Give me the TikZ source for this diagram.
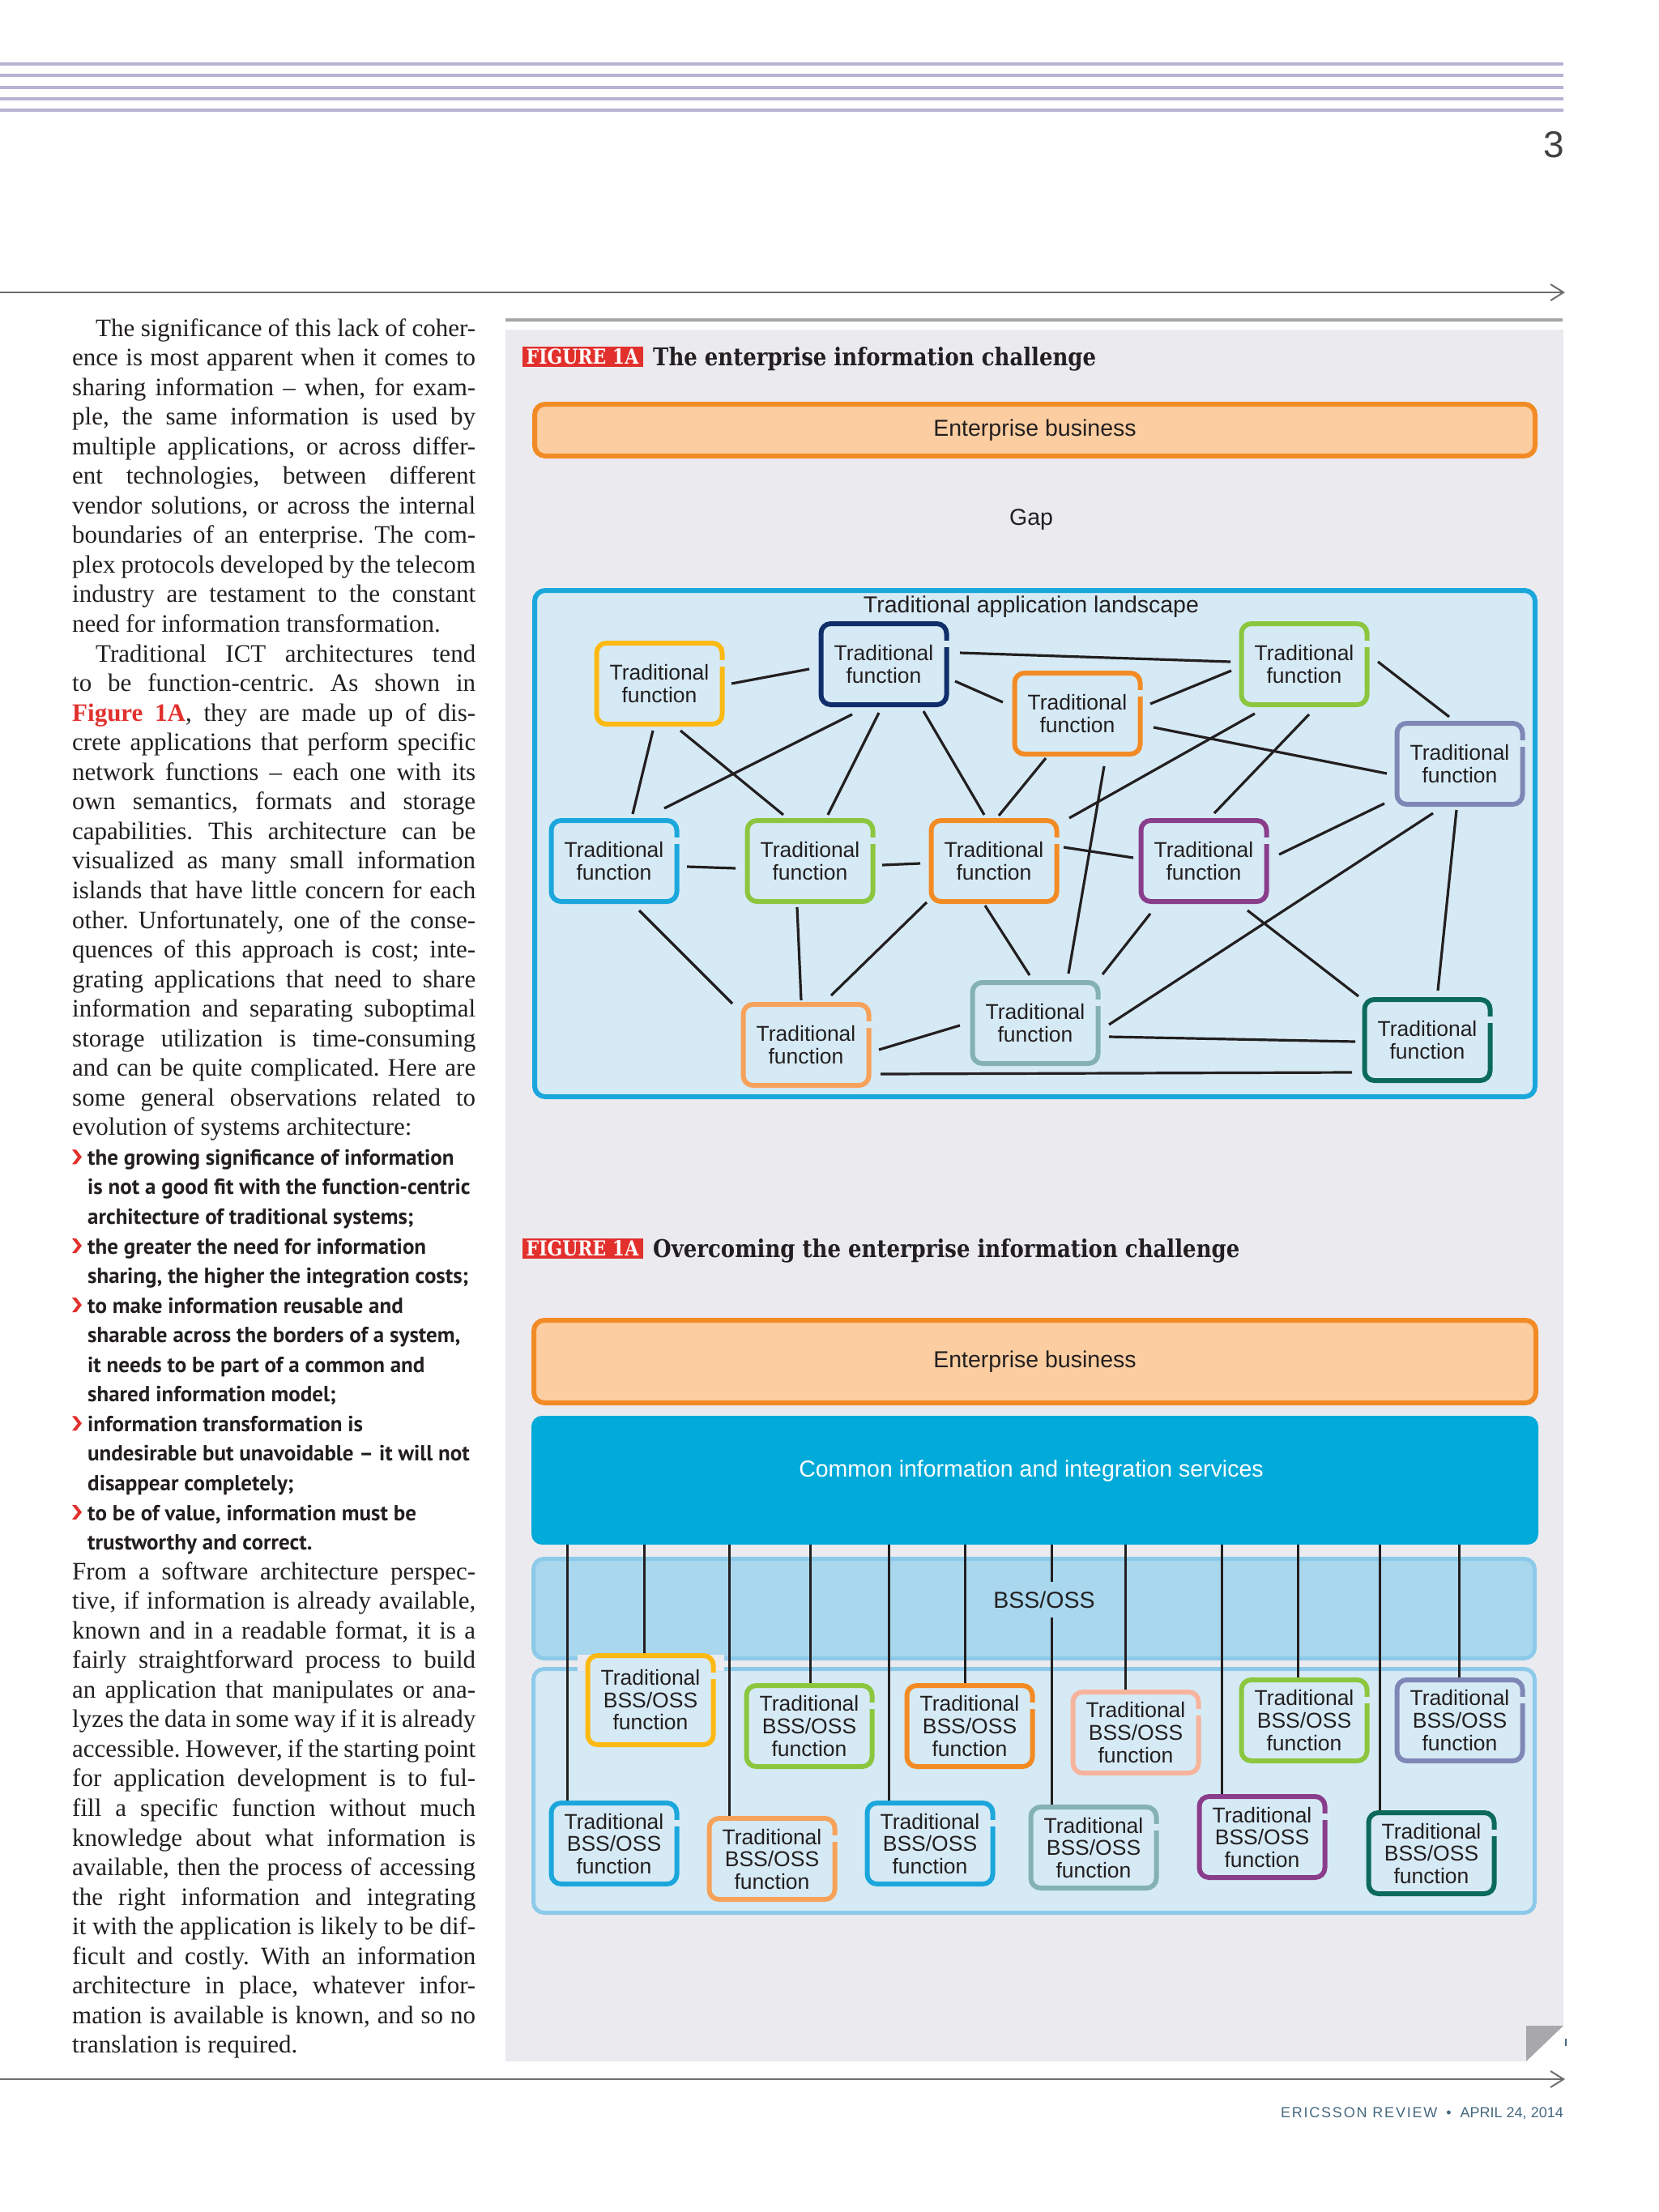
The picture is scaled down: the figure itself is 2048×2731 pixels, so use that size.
\documentclass[tikz,border=0pt]{standalone}
\usepackage{fontspec}
\setmainfont{Liberation Serif}
\newfontfamily\diafont{Liberation Sans}
\newfontfamily\bulfont{PT Sans}
\newfontfamily\slabfont[FakeStretch=0.86]{DejaVu Serif}
\usetikzlibrary{arrows.meta,calc}
\definecolor{hdr}{HTML}{B7B3D2}
\definecolor{rulegrey}{HTML}{6E6E70}
\definecolor{panelbg}{HTML}{EBEBEF}
\definecolor{paneltop}{HTML}{A6A6A9}
\definecolor{fold}{HTML}{A8A8AC}
\definecolor{figred}{HTML}{E2302D}
\definecolor{txt}{HTML}{231F20}
\definecolor{ebfill}{HTML}{FBCDA0}
\definecolor{ebdraw}{HTML}{F28B25}
\definecolor{lbfill}{HTML}{D6EAF5}
\definecolor{cyanb}{HTML}{1BA7DC}
\definecolor{cyellow}{HTML}{FDB913}
\definecolor{cnavy}{HTML}{112E6B}
\definecolor{corange}{HTML}{F38B24}
\definecolor{cgreen}{HTML}{8CC63F}
\definecolor{cslate}{HTML}{7F87B6}
\definecolor{cpurple}{HTML}{893D8B}
\definecolor{cltorange}{HTML}{F6A25B}
\definecolor{cteal}{HTML}{83B1B6}
\definecolor{cdkgreen}{HTML}{0C6A5C}
\definecolor{csalmon}{HTML}{F7B49C}
\definecolor{commonfill}{HTML}{00AAD9}
\definecolor{bandfill}{HTML}{A8D7EE}
\definecolor{banddraw}{HTML}{8DCAEA}
\definecolor{footc}{HTML}{45687F}
\newcommand\JLine[1]{\makebox[498pt][s]{#1}\\}
\newcommand\ILine[1]{\hspace*{29pt}\makebox[469pt][s]{#1}\\}
\newcommand\LLine[1]{#1\\}
\begin{document}
\begin{tikzpicture}[x=1pt,y=-1pt,
  tf/.style={draw=#1, line width=6pt, rounded corners=12pt, fill=lbfill, minimum width=155pt, minimum height=100pt, inner sep=0pt, outer sep=0pt, align=center, text=txt, font=\diafont\fontsize{26.5}{28}\selectfont},
  tf3/.style={tf=#1, font=\diafont\fontsize{26.5}{27.5}\selectfont},
  conn/.style={line width=3.2pt, draw=txt},
  vline/.style={line width=3pt, draw=txt},
  dtext/.style={inner sep=0pt, text=txt, font=\diafont\fontsize{28.5}{30}\selectfont},
  figlab/.style={fill=figred, text=white, inner sep=0pt, minimum width=149pt, minimum height=25pt, font=\slabfont\bfseries\fontsize{25.5}{25.5}\selectfont},
  figtitle/.style={anchor=base west, inner sep=0pt, text=txt, font=\slabfont\bfseries\fontsize{30.2}{30.2}\selectfont},
  bigbox/.style={line width=6pt, rounded corners=13pt, outer sep=0pt, inner sep=0pt}
]
\useasboundingbox (0,0) rectangle (2048,2731);
\fill[white] (0,0) rectangle (2048,2731);
% header lines
\foreach \i in {0,...,4} \draw[hdr, line width=4pt] (0,{79+\i*14.25}) -- (1930,{79+\i*14.25});
\node[anchor=east, inner sep=0pt, text=txt!85, font=\diafont\fontsize{46}{46}\selectfont] (pagenum) at (1931,179) {3};
% rules
\draw[rulegrey, line width=2.5pt, -{Straight Barb[length=16pt,width=20pt,line width=2pt]}] (0,361) -- (1932,361);
\draw[rulegrey, line width=2.5pt, -{Straight Barb[length=16pt,width=20pt,line width=2pt]}] (0,2567) -- (1932,2567);
% panel
\fill[panelbg] (624,407) -- (1930,407) -- (1930,2501) -- (1884,2545) -- (624,2545) -- cycle;
\fill[fold] (1884,2501) -- (1930,2501) -- (1884,2545) -- cycle;
\draw[paneltop, line width=4pt] (624,395) -- (1929,395);
\draw[footc, line width=2pt] (1933,2517) -- (1933,2526);
% footer
\node[anchor=base east, inner sep=0pt, text=footc, font=\diafont\fontsize{18}{18}\selectfont] (footer) at (1930,2614) {{\addfontfeature{LetterSpace=10}ERICSSON REVIEW}\hspace{11pt}•\hspace{11pt}APRIL 24, 2014};

% ---------- body text ----------
\node[anchor=base west, inner sep=0pt, text=txt] (para1) at (89,415) {\parbox[t]{560pt}{\fontsize{31}{36.55}\selectfont\frenchspacing\lineskiplimit=-100pt\parindent=0pt
\ILine{The significance of this lack of coher-}
\JLine{ence is most apparent when it comes to}
\JLine{sharing information – when, for exam-}
\JLine{ple, the same information is used by}
\JLine{multiple applications, or across differ-}
\JLine{ent technologies, between different}
\JLine{vendor solutions, or across the internal}
\JLine{boundaries of an enterprise. The com-}
\JLine{plex protocols developed by the telecom}
\JLine{industry are testament to the constant}
\LLine{need for information transformation.}
\ILine{Traditional ICT architectures tend}
\JLine{to be function-centric. As shown in}
\JLine{\textcolor{figred}{\textbf{Figure 1A}}, they are made up of dis-}
\JLine{crete applications that perform specific}
\JLine{network functions – each one with its}
\JLine{own semantics, formats and storage}
\JLine{capabilities. This architecture can be}
\JLine{visualized as many small information}
\JLine{islands that have little concern for each}
\JLine{other. Unfortunately, one of the conse-}
\JLine{quences of this approach is cost; inte-}
\JLine{grating applications that need to share}
\JLine{information and separating suboptimal}
\JLine{storage utilization is time-consuming}
\JLine{and can be quite complicated. Here are}
\JLine{some general observations related to}
evolution of systems architecture:}};
\node[anchor=base west, inner sep=0pt, text=txt] (bullets) at (108,1438.4) {\parbox[t]{600pt}{\bulfont\bfseries\fontsize{27}{36.55}\selectfont\lineskiplimit=-100pt\parindent=0pt
the growing significance of information\\
is not a good fit with the function-centric\\
architecture of traditional systems;\\
the greater the need for information\\
sharing, the higher the integration costs;\\
to make information reusable and\\
sharable across the borders of a system,\\
it needs to be part of a common and\\
shared information model;\\
information transformation is\\
undesirable but unavoidable – it will not\\
disappear completely;\\
to be of value, information must be\\
trustworthy and correct.}};
\foreach \b in {1438.4,1548.05,1621.15,1767.35,1877.0}
  \fill[figred] (89,{\b-19}) -- (94,{\b-19}) -- (101,{\b-10}) -- (94,{\b-1}) -- (89,{\b-1}) -- (96,{\b-10}) -- cycle;
\node[anchor=base west, inner sep=0pt, text=txt] (para3) at (89,1950.1) {\parbox[t]{560pt}{\fontsize{31}{36.55}\selectfont\frenchspacing\lineskiplimit=-100pt\parindent=0pt
\JLine{From a software architecture perspec-}
\JLine{tive, if information is already available,}
\JLine{known and in a readable format, it is a}
\JLine{fairly straightforward process to build}
\JLine{an application that manipulates or ana-}
\JLine{lyzes the data in some way if it is already}
\JLine{accessible. However, if the starting point}
\JLine{for application development is to ful-}
\JLine{fill a specific function without much}
\JLine{knowledge about what information is}
\JLine{available, then the process of accessing}
\JLine{the right information and integrating}
\JLine{it with the application is likely to be dif-}
\JLine{ficult and costly. With an information}
\JLine{architecture in place, whatever infor-}
\JLine{mation is available is known, and so no}
translation is required.}};

% ---------- figure 1 ----------
\node[figlab] (lab1) at (719,440.5) {FIGURE 1A};
\node[figtitle] (title1) at (806,451) {The enterprise information challenge};
\node[bigbox, draw=ebdraw, fill=ebfill, minimum width=1235pt, minimum height=64pt, dtext] (eb1) at (1277.5,531) {Enterprise business};
\node[dtext] (gap) at (1273,641) {Gap};
\node[bigbox, draw=cyanb, fill=lbfill, minimum width=1235pt, minimum height=625pt] (land) at (1277.5,1041.5) {};
\node[dtext] (landtitle) at (1273,749) {Traditional application landscape};
\node[tf=cyellow] (n1) at (814,844) {Traditional\\function};
\node[tf=cnavy] (n2) at (1091,820) {Traditional\\function};
\node[tf=corange] (n3) at (1330,881) {Traditional\\function};
\node[tf=cgreen] (n4) at (1610,820) {Traditional\\function};
\node[tf=cslate] (n5) at (1802,943) {Traditional\\function};
\node[tf=cyanb] (n6) at (758,1063) {Traditional\\function};
\node[tf=cgreen] (n7) at (1000,1063) {Traditional\\function};
\node[tf=corange] (n8) at (1227,1063) {Traditional\\function};
\node[tf=cpurple] (n9) at (1486,1063) {Traditional\\function};
\node[tf=cltorange] (n10) at (995,1290) {Traditional\\function};
\node[tf=cteal] (n11) at (1278,1263) {Traditional\\function};
\node[tf=cdkgreen] (n12) at (1762,1284) {Traditional\\function};
\foreach \a/\ax/\ay/\b/\bx/\by in {
n1/89/0/n2/-92/6, n2/94/-14/n4/-91/-3, n2/88/21/n3/-92/-14, n3/90/-12/n4/-90/8,
n4/91/-3/n5/-13/-58, n3/94/17/n5/-90/12, n1/-8/58/n6/23/-58, n1/26/58/n7/-33/-57,
n2/-39/62/n6/62/-65, n2/-6/60/n7/22/-57, n2/49/58/n8/-12/-57, n3/-39/55/n8/6/-56,
n3/33/65/n11/41/-61, n4/-61/61/n8/93/-53, n4/6/62/n9/13/-59, n6/90/7/n7/-92/9,
n7/89/5/n8/-91/3, n8/86/-17/n9/-87/-4, n9/93/-8/n5/-93/49, n5/-33/61/n11/91/2,
n5/-4/57/n12/13/-61, n6/31/61/n10/-91/-51, n7/-16/57/n10/-6/-55, n8/-83/51/n10/31/-61,
n8/-11/55/n11/-7/-59, n9/-66/65/n11/83/-60, n9/54/61/n12/-85/-54, n10/90/6/n11/-93/3,
n11/91/17/n12/-89/2, n10/92/36/n12/-93/40}
  \draw[conn] ([shift={(\ax,\ay)}]\a.center) -- ([shift={(\bx,\by)}]\b.center);

% ---------- figure 2 ----------
\node[figlab] (lab2) at (719,1541) {FIGURE 1A};
\node[figtitle] (title2) at (806,1552) {Overcoming the enterprise information challenge};
\node[bigbox, draw=ebdraw, fill=ebfill, minimum width=1237pt, minimum height=102pt, dtext] (eb2) at (1277.5,1681) {Enterprise business};
\node[bigbox, draw=none, fill=commonfill, minimum width=1243pt, minimum height=159pt] (common) at (1277.5,1827.5) {};
\node[dtext, text=white] (cis) at (1273,1816) {Common information and integration services};
\node[bigbox, line width=5pt, draw=banddraw, fill=bandfill, minimum width=1236pt, minimum height=123pt] (band) at (1276.5,1986) {};
\node[bigbox, line width=5pt, draw=banddraw, fill=lbfill, minimum width=1236pt, minimum height=301pt] (lower) at (1276.5,2211) {};
\fill[panelbg] (713,2043) rectangle (894,2063);
\node[tf3=cyellow, minimum height=110pt] (T1) at (803,2099) {Traditional\\BSS/OSS\\function};
\node[tf3=cgreen] (T2) at (999,2131) {Traditional\\BSS/OSS\\function};
\node[tf3=corange] (T3) at (1197,2131) {Traditional\\BSS/OSS\\function};
\node[tf3=csalmon] (T4) at (1402,2139) {Traditional\\BSS/OSS\\function};
\node[tf3=cgreen] (T5) at (1610,2124) {Traditional\\BSS/OSS\\function};
\node[tf3=cslate] (T6) at (1802,2124) {Traditional\\BSS/OSS\\function};
\node[tf3=cyanb] (B1) at (758,2276) {Traditional\\BSS/OSS\\function};
\node[tf3=cltorange] (B2) at (953,2295) {Traditional\\BSS/OSS\\function};
\node[tf3=cyanb] (B3) at (1148,2276) {Traditional\\BSS/OSS\\function};
\node[tf3=cteal] (B4) at (1350,2281) {Traditional\\BSS/OSS\\function};
\node[tf3=cpurple] (B5) at (1558,2268) {Traditional\\BSS/OSS\\function};
\node[tf3=cdkgreen] (B6) at (1767,2288) {Traditional\\BSS/OSS\\function};
\foreach \n/\dx in {B1/-58, T1/-8, B2/-53, T2/1, B3/-51, T3/-6, B4/-52, T4/-13, B5/-50, T5/-8, B6/-64, T6/-1} {
  \coordinate (e\n) at ([xshift=\dx pt, yshift=3pt]\n.north);
  \draw[vline] (e\n) -- (e\n |- common.south);
}
\node[dtext, fill=bandfill, inner xsep=8pt, inner ysep=12pt] (bsslab) at (1289,1975) {BSS/OSS};
% notches in the box borders
\foreach \n in {n1,n2,n3,n4,n5,n6,n7,n8,n9,n10,n11,n12,T1,T2,T3,T4,T5,T6,B1,B2,B3,B4,B5,B6}
  \fill[lbfill] ([xshift=-5pt,yshift=-21pt]\n.north east) rectangle ([xshift=5pt,yshift=-29pt]\n.north east);
\end{tikzpicture}
\end{document}
